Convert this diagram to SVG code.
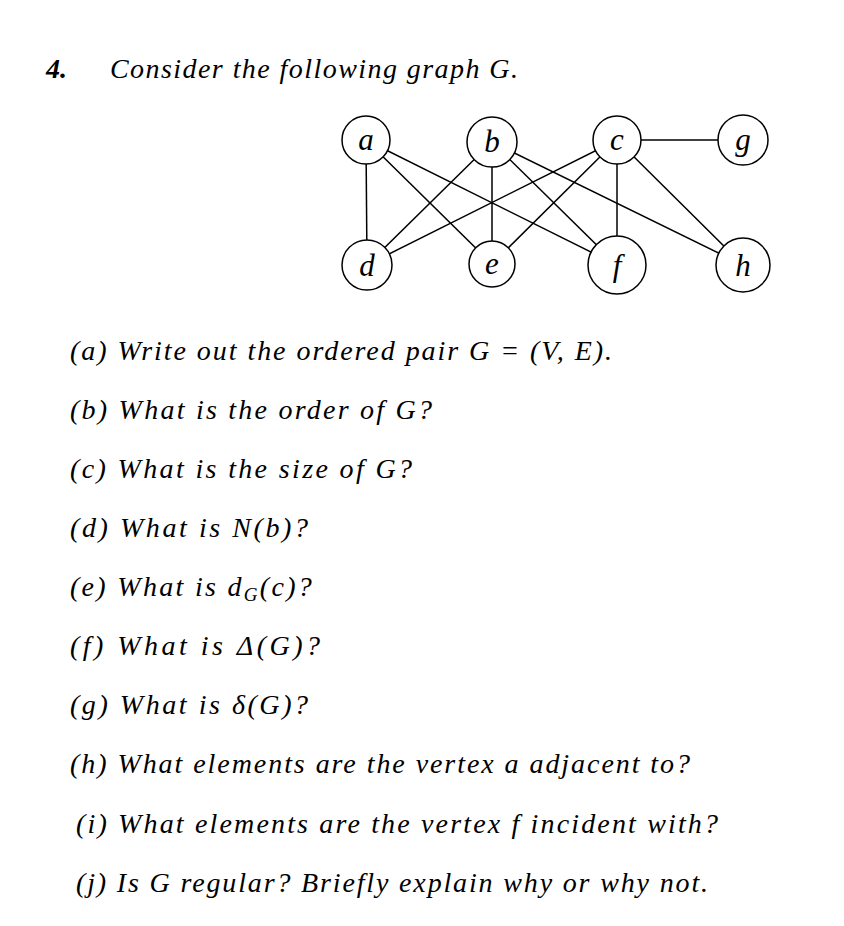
<svg xmlns="http://www.w3.org/2000/svg" width="844" height="926" viewBox="0 0 844 926">
<style>
.t{font-family:"Liberation Serif",serif;font-style:italic;font-size:28px;fill:#000}
.n{fill:#fff;stroke:#000;stroke-width:1.5}
.l{font-family:"Liberation Serif",serif;font-style:italic;font-size:31px;text-anchor:middle;dominant-baseline:central}
#edges line{stroke:#000;stroke-width:1.5}
</style>
<rect width="844" height="926" fill="#fff"/>
<text class="t" x="46" y="78" style="font-weight:bold">4.</text>
<text class="t" x="110" y="78" textLength="408" lengthAdjust="spacing">Consider the following graph G.</text>
<g id="edges">
<line x1="366" y1="140" x2="367" y2="265"/>
<line x1="366" y1="140" x2="492" y2="264"/>
<line x1="366" y1="140" x2="617" y2="265"/>
<line x1="492" y1="142" x2="367" y2="265"/>
<line x1="492" y1="142" x2="492" y2="264"/>
<line x1="492" y1="142" x2="617" y2="265"/>
<line x1="492" y1="142" x2="743" y2="265"/>
<line x1="617" y1="140" x2="367" y2="265"/>
<line x1="617" y1="140" x2="492" y2="264"/>
<line x1="617" y1="140" x2="617" y2="265"/>
<line x1="617" y1="140" x2="743" y2="265"/>
<line x1="617" y1="140" x2="743" y2="140"/>
</g>
<g id="a"><circle class="n" cx="366" cy="140" r="24"/><text class="l" x="366" y="139">a</text></g>
<g id="b"><circle class="n" cx="492" cy="142" r="25"/><text class="l" x="492" y="141">b</text></g>
<g id="c"><circle class="n" cx="617" cy="140" r="24"/><text class="l" x="617" y="139">c</text></g>
<g id="g"><circle class="n" cx="743" cy="140" r="25"/><text class="l" x="743" y="139">g</text></g>
<g id="d"><circle class="n" cx="367" cy="265" r="25"/><text class="l" x="367" y="265">d</text></g>
<g id="e"><circle class="n" cx="492" cy="264" r="23"/><text class="l" x="492" y="263">e</text></g>
<g id="f"><circle class="n" cx="617" cy="265" r="29"/><text class="l" x="617" y="265">f</text></g>
<g id="h"><circle class="n" cx="743" cy="265" r="27"/><text class="l" x="743" y="265">h</text></g>
<text class="t" x="70" y="360" textLength="542" lengthAdjust="spacing">(a)  Write out the ordered pair G = (V, E).</text>
<text class="t" x="70" y="419" textLength="362" lengthAdjust="spacing">(b)  What is the order of G?</text>
<text class="t" x="70" y="478" textLength="342" lengthAdjust="spacing">(c)  What is the size of G?</text>
<text class="t" x="70" y="537" textLength="238" lengthAdjust="spacing">(d)  What is N(b)?</text>
<text class="t" x="70" y="596" style="letter-spacing:2.3px">(e)  What is  d<tspan font-size="19" dy="5">G</tspan><tspan dy="-5">(c)?</tspan></text>
<text class="t" x="70" y="655" textLength="250" lengthAdjust="spacing">(f)  What is Δ(G)?</text>
<text class="t" x="70" y="714" textLength="238" lengthAdjust="spacing">(g)  What is δ(G)?</text>
<text class="t" x="70" y="773" textLength="620" lengthAdjust="spacing">(h)  What elements are the vertex a adjacent to?</text>
<text class="t" x="76" y="833" textLength="642" lengthAdjust="spacing">(i)  What elements are the vertex f incident with?</text>
<text class="t" x="76" y="892" textLength="632" lengthAdjust="spacing">(j)  Is G regular? Briefly explain why or why not.</text>
</svg>
